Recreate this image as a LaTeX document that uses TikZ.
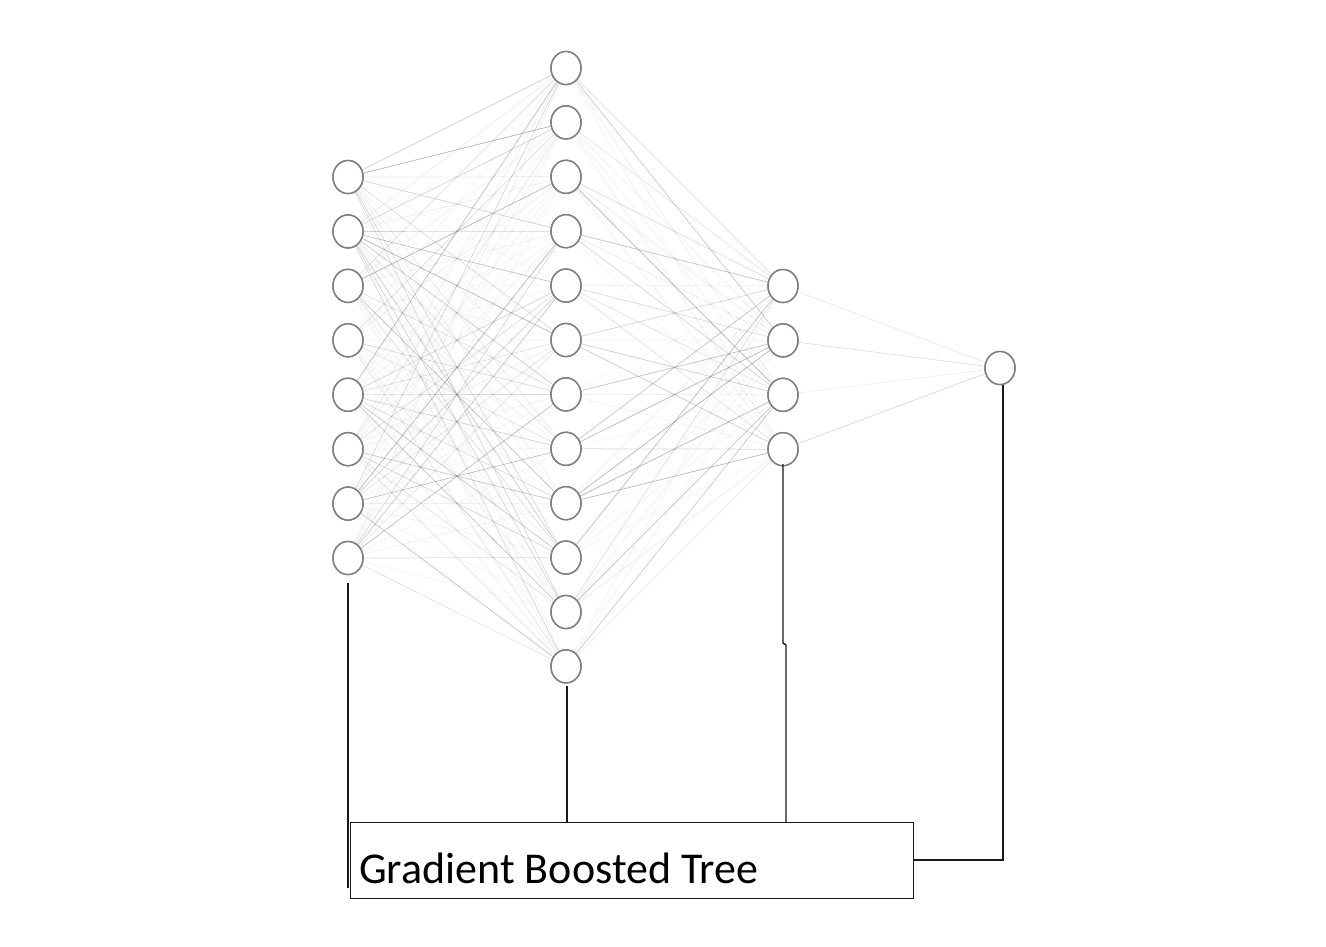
\documentclass[tikz,border=0pt]{standalone}
\usepackage{fontspec}
\setmainfont{Carlito}
\usetikzlibrary{shapes.geometric}
\begin{document}
\begin{tikzpicture}[x=1pt,y=-1pt,
  neuron/.style={ellipse,draw=black!50,line width=1.5pt,fill=white,minimum width=30pt,minimum height=33pt,inner sep=0pt},
  wire/.style={draw=black!60,line width=0.75pt},
  link/.style={draw=black!90,line width=1.4pt},
  gbtbox/.style={draw=black!90,line width=1.4pt,minimum width=563pt,minimum height=76pt,inner sep=0pt,anchor=north west}]
\useasboundingbox (0,0) rectangle (1326,946);
% nodes
\foreach \i in {1,...,8}{\node[neuron] (a\i) at (348,{177+54.43*(\i-1)}) {};}
\foreach \j in {1,...,12}{\node[neuron] (b\j) at (566,{68+54.4*(\j-1)}) {};}
\foreach \k in {1,...,4}{\node[neuron] (c\k) at (783,{286+54.4*(\k-1)}) {};}
\node[neuron] (d) at (1000,368) {};
% edges
\pgfmathsetseed{11}
\foreach \i in {1,...,8}{\foreach \j in {1,...,12}{
  \pgfmathsetmacro\op{0.07+0.45*rnd^2}
  \draw[wire,opacity=\op] (a\i) -- (b\j);}}
\foreach \j in {1,...,12}{\foreach \k in {1,...,4}{
  \pgfmathsetmacro\op{0.07+0.4*rnd^2}
  \draw[wire,opacity=\op] (b\j) -- (c\k);}}
\foreach \k/\o in {1/0.15,2/0.2,3/0.1,4/0.25}{\draw[wire,opacity=\o] (c\k) -- (d);}
% redraw nodes on top
\foreach \i in {1,...,8}{\node[neuron] at (a\i) {};}
\foreach \j in {1,...,12}{\node[neuron] at (b\j) {};}
\foreach \k in {1,...,4}{\node[neuron] at (c\k) {};}
\node[neuron] at (d) {};
% box
\node[gbtbox] (gbt) at (350,822) {};
\node[anchor=base west,inner sep=0pt,font=\fontsize{44}{52}\selectfont] (gbtlabel) at (359,883) {Gradient Boosted Tree};
% links
\coordinate (p1) at (348,583);
\coordinate (q1) at (348,888);
\draw[link] (p1) -- (q1);
\coordinate (p2) at (567,686);
\draw[link] (p2) -- (p2 |- gbt.north);
\coordinate (p3) at (783,464);
\coordinate (p3b) at (783,643);
\coordinate (p3c) at (786,645);
\draw[link] (p3) -- (p3b) -- (p3c) -- (p3c |- gbt.north);
\coordinate (p4) at (1003,385);
\coordinate (p4b) at (1003,860);
\draw[link] (p4) -- (p4b) -- (gbt.east |- p4b);
\end{tikzpicture}
\end{document}
